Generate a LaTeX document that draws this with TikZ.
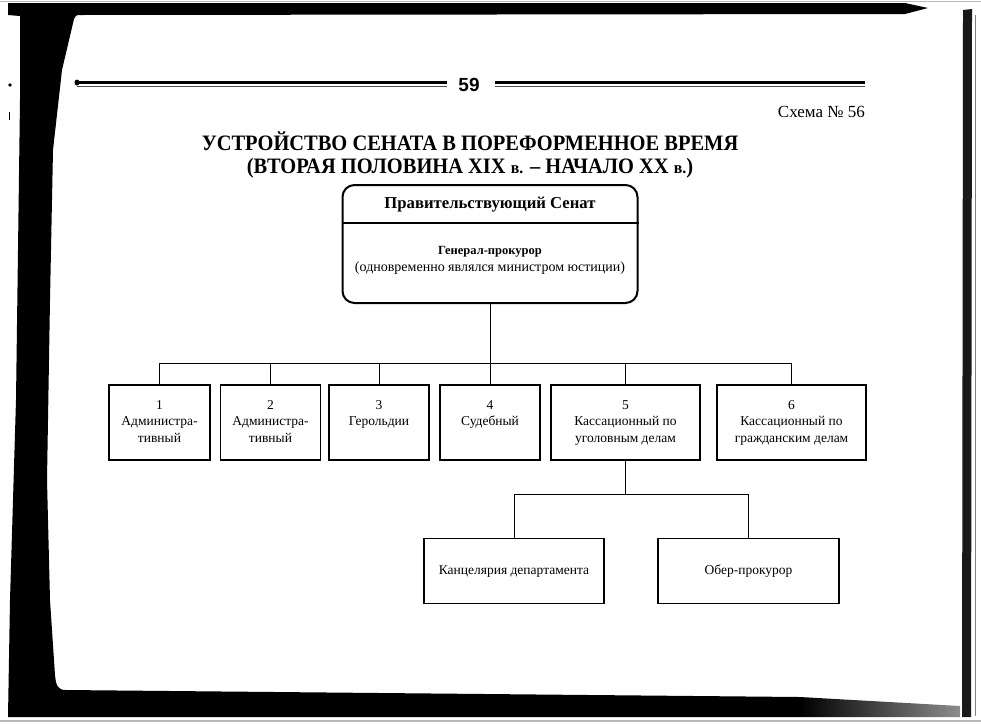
\documentclass[tikz,border=0pt]{standalone}
\usepackage{fontspec}
\setmainfont{Liberation Serif}
\newfontfamily\titlefont[FakeStretch=0.93]{Liberation Serif}
\newfontfamily\pagenumfont{Liberation Sans}
\begin{document}
\begin{tikzpicture}[x=1pt,y=-1pt,
  scan/.style={fill=black,draw=none},
  conn/.style={draw,line width=1pt},
  dept/.style={draw,line width=1.1pt,minimum height=75pt,inner sep=0pt},
  subbox/.style={draw,line width=1.1pt,minimum height=65pt,inner sep=0pt,
    text height=9.5pt,text depth=3pt,
    font=\fontsize{13.5}{16.5}\selectfont},
  dtext/.style={anchor=north,align=center,inner sep=0pt,
    font=\fontsize{13.5}{16.5}\selectfont},
  senate/.style={draw,line width=2pt,rounded corners=12pt,
    minimum width=295pt,minimum height=118pt,inner sep=0pt},
  hdr/.style={line width=3pt},
  hdrthin/.style={line width=0.8pt,black!70}
]
\useasboundingbox (0,0) rectangle (981,724);
% ---- scan borders ----
\draw[gray!55,line width=1.2pt] (0,1.5) -- (981,1.5);
\draw[gray!55,line width=1.5pt] (0,721) -- (981,721);
\fill[scan] (8,3) -- (905,3) -- (928,8) -- (905,14) -- (80,15)
  .. controls (76,15) and (75,16) .. (74,19) -- (62,70) -- (53,150)
  -- (50,300) -- (47,480) -- (50,600) -- (55,675)
  .. controls (56,686) and (58,690) .. (66,690) -- (800,697)
  -- (800,717) -- (8,717) -- (10,600) -- (16,400) -- (20,100) -- (20,16)
  -- (8,15) -- cycle;
\shade[left color=black,right color=black!45] (800,697) -- (960,706) -- (960,717) -- (800,717) -- cycle;
\fill[black!90] (963,10) -- (972,9) -- (971,717) -- (962,717) -- cycle;
\draw[black!50,line width=0.8pt] (975,15) -- (975,716);
\fill[scan] (10,85) circle (1.8);
\fill[scan] (8.5,112) rectangle (9.6,120);
% ---- page header ----
\node[font=\pagenumfont\bfseries\fontsize{19}{19}\selectfont,inner sep=0pt] (pnum) at (469,84.5) {59};
\coordinate (hl1) at (77,82.5);
\coordinate (hl2) at (447,82.5);
\coordinate (hr1) at (495,82.5);
\coordinate (hr2) at (865,82.5);
\draw[hdr] (hl1) -- (hl2);
\draw[hdr] (hr1) -- (hr2);
\draw[hdrthin] ([yshift=-3.5pt]hl1) -- ([yshift=-3.5pt]hl2);
\draw[hdrthin] ([yshift=-3.5pt]hr1) -- ([yshift=-3.5pt]hr2);
\fill[scan] (hl1) ellipse (2.5pt and 3pt);
\node[anchor=base east,inner sep=0pt,font=\fontsize{17}{17}\selectfont] (schema) at (865,117) {Схема №~56};
% ---- title ----
\node[anchor=base,inner sep=0pt,font=\titlefont\bfseries\fontsize{22}{23}\selectfont] (title1) at (470,150)
  {УСТРОЙСТВО СЕНАТА В ПОРЕФОРМЕННОЕ ВРЕМЯ};
\node[anchor=base,inner sep=0pt,font=\titlefont\bfseries\fontsize{22}{23}\selectfont] (title2) at (470,173)
  {(ВТОРАЯ ПОЛОВИНА XIX {\fontsize{17}{17}\selectfont в.} – НАЧАЛО XX {\fontsize{17}{17}\selectfont в.})};
% ---- senate ----
\node[senate] (sen) at (490,244) {};
\draw[line width=1.3pt] (sen.west |- 0,223) -- (sen.east |- 0,223);
\node[inner sep=0pt,font=\bfseries\fontsize{16.7}{18}\selectfont] (sent) at (490,205) {Правительствующий Сенат};
\node[inner sep=0pt,font=\bfseries\fontsize{12.5}{14}\selectfont] (gen) at (490,252) {Генерал-прокурор};
\node[inner sep=0pt,font=\fontsize{14}{16}\selectfont] (genn) at (490,268) {(одновременно являлся министром юстиции)};
% ---- departments ----
\node[dept,minimum width=101pt] (d1) at (159.5,422.5) {};
\node[dept,minimum width=100pt] (d2) at (270.5,422.5) {};
\node[dept,minimum width=100pt] (d3) at (379,422.5) {};
\node[dept,minimum width=100pt] (d4) at (490,422.5) {};
\node[dept,minimum width=149pt] (d5) at (625.5,422.5) {};
\node[dept,minimum width=149pt] (d6) at (791.5,422.5) {};
\node[dtext] (t1) at ([yshift=-15.5pt]d1.north) {1\\Администра-\\тивный};
\node[dtext] (t2) at ([yshift=-15.5pt]d2.north) {2\\Администра-\\тивный};
\node[dtext] (t3) at ([yshift=-15.5pt]d3.north) {3\\Герольдии};
\node[dtext] (t4) at ([yshift=-15.5pt]d4.north) {4\\Судебный};
\node[dtext] (t5) at ([yshift=-15.5pt]d5.north) {5\\Кассационный по\\уголовным делам};
\node[dtext] (t6) at ([yshift=-15.5pt]d6.north) {6\\Кассационный по\\гражданским делам};
% ---- lower boxes ----
\node[subbox,minimum width=180pt] (k1) at (514,571) {Канцелярия департамента};
\node[subbox,minimum width=181pt] (k2) at (748.5,571) {Обер-прокурор};
% ---- connectors ----
\coordinate (bus) at (0,363);
\coordinate (bus2) at (0,494);
\draw[conn] (sen.south) -- (d4.north);
\draw[conn] (d1.north) -- (d1.north |- bus) -- (d6.north |- bus) -- (d6.north);
\draw[conn] (d2.north) -- (d2.north |- bus);
\draw[conn] (d3.north) -- (d3.north |- bus);
\draw[conn] (d5.north) -- (d5.north |- bus);
\draw[conn] (d5.south) -- (d5.south |- bus2);
\draw[conn] (k1.north) -- (k1.north |- bus2) -- (k2.north |- bus2) -- (k2.north);
\end{tikzpicture}
\end{document}
